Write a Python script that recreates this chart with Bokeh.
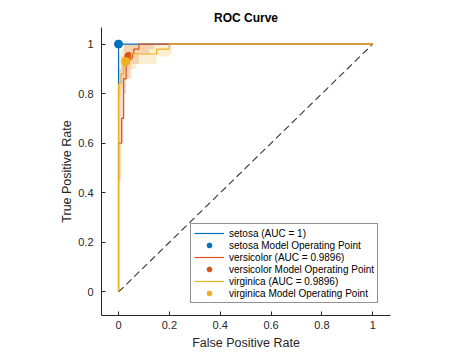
from bokeh.plotting import figure
from bokeh.models import Range1d, Legend, LegendItem, FixedTicker
from bokeh.embed import file_html
from bokeh.resources import INLINE

# ---- data ----
setosa_fpr = [0, 0, 1]
setosa_tpr = [0, 1, 1]
versicolor_fpr = [0, 0, 0.012, 0.012, 0.02, 0.02, 0.03, 0.03, 0.04, 0.04, 0.06, 0.06, 0.08, 0.08, 1]
versicolor_tpr = [0, 0.6, 0.6, 0.7, 0.7, 0.86, 0.86, 0.92, 0.92, 0.96, 0.96, 0.98, 0.98, 1.0, 1.0]
virginica_fpr = [0, 0, 0.01, 0.01, 0.02, 0.02, 0.03, 0.03, 0.05, 0.05, 0.15, 0.15, 0.20, 0.20, 1]
virginica_tpr = [0, 0.84, 0.84, 0.88, 0.88, 0.92, 0.92, 0.94, 0.94, 0.96, 0.96, 0.98, 0.98, 1.0, 1.0]

versicolor_band_fpr = [0, 0.01, 0.02, 0.03, 0.05, 0.08, 0.12, 0.14]
versicolor_band_lo = [0.45, 0.6, 0.8, 0.86, 0.92, 0.96, 0.98, 0.98]
versicolor_band_hi = [0.9, 0.95, 1, 1, 1, 1, 1, 1]
virginica_band_fpr = [0, 0.01, 0.02, 0.04, 0.07, 0.15, 0.2, 0.21]
virginica_band_lo = [0.78, 0.82, 0.86, 0.9, 0.92, 0.95, 0.96, 0.96]
virginica_band_hi = [0.96, 0.98, 1, 1, 1, 1, 1, 1]

op_fpr = {"setosa": 0.0, "versicolor": 0.04, "virginica": 0.028}
op_tpr = {"setosa": 1.0, "versicolor": 0.95, "virginica": 0.93}
auc = {"setosa": "1", "versicolor": "0.9896", "virginica": "0.9896"}

chance_fpr = [0, 1]
chance_tpr = [0, 1]

ticks = [0, 0.2, 0.4, 0.6, 0.8, 1]
tick_labels = {0: "0", 0.2: "0.2", 0.4: "0.4", 0.6: "0.6", 0.8: "0.8", 1: "1"}

colors = {"setosa": "#0072BD", "versicolor": "#D95319", "virginica": "#EDB120"}
FONT = "Liberation Sans"
TXT = "#262626"

p = figure(width=474, height=355, output_backend="svg", toolbar_location=None,
           x_range=Range1d(-0.067, 1.07), y_range=Range1d(-0.095, 1.067),
           min_border_left=101, min_border_right=84, min_border_top=27, min_border_bottom=40)
p.outline_line_color = None
p.grid.visible = False
p.background_fill_color = "white"
p.border_fill_color = "white"

p.title.text = "ROC Curve"
p.title.text_font = FONT
p.title.text_font_size = "12px"
p.title.text_font_style = "bold"
p.title.align = "center"
p.title.text_color = "#000000"
p.title.standoff = 5

for ax, lab in ((p.xaxis[0], "False Positive Rate"), (p.yaxis[0], "True Positive Rate")):
    ax.ticker = FixedTicker(ticks=ticks)
    ax.major_label_overrides = tick_labels
    ax.axis_label = lab
    ax.axis_label_text_font = FONT
    ax.axis_label_text_font_size = "12.5px"
    ax.axis_label_text_font_style = "normal"
    ax.axis_label_text_color = TXT
    ax.major_label_text_font = FONT
    ax.major_label_text_font_size = "11px"
    ax.major_label_text_color = TXT
    ax.axis_line_color = TXT
    ax.major_tick_line_color = TXT
    ax.major_tick_in = 4
    ax.major_tick_out = 0
    ax.minor_tick_line_color = None
p.xaxis.major_label_standoff = 5
p.xaxis.axis_label_standoff = 4
p.yaxis.major_label_standoff = 8
p.yaxis.axis_label_standoff = 1

# confidence bands
p.varea_step(x=versicolor_band_fpr, y1=versicolor_band_lo, y2=versicolor_band_hi,
             step_mode="after", fill_color=colors["versicolor"], fill_alpha=0.2)
p.varea_step(x=virginica_band_fpr, y1=virginica_band_lo, y2=virginica_band_hi,
             step_mode="after", fill_color=colors["virginica"], fill_alpha=0.2)

p.line(chance_fpr, chance_tpr, line_color="#333333", line_dash="7 4", line_width=1.1)

curves = {
    "setosa": (setosa_fpr, setosa_tpr),
    "versicolor": (versicolor_fpr, versicolor_tpr),
    "virginica": (virginica_fpr, virginica_tpr),
}
items = []
for name in ["setosa", "versicolor", "virginica"]:
    fx, ty = curves[name]
    lr = p.line(fx, ty, line_color=colors[name], line_width=1.2)
    sr = p.scatter([op_fpr[name]], [op_tpr[name]], size=8, fill_color=colors[name],
                   line_color=colors[name])
    items.append(LegendItem(label=f"{name} (AUC = {auc[name]})", renderers=[lr]))
    items.append(LegendItem(label=f"{name} Model Operating Point", renderers=[sr]))

legend = Legend(items=items, location=(89, 12))
legend.label_text_font = FONT
legend.label_text_font_size = "10px"
legend.label_text_color = "#000000"
legend.glyph_width = 30
legend.glyph_height = 12
legend.label_height = 12
legend.label_standoff = 5
legend.spacing = 0
legend.padding = 3
legend.margin = 0
legend.border_line_color = TXT
legend.border_line_width = 1
legend.background_fill_alpha = 1
p.add_layout(legend)

open("out.html", "w").write(file_html(p, INLINE))
